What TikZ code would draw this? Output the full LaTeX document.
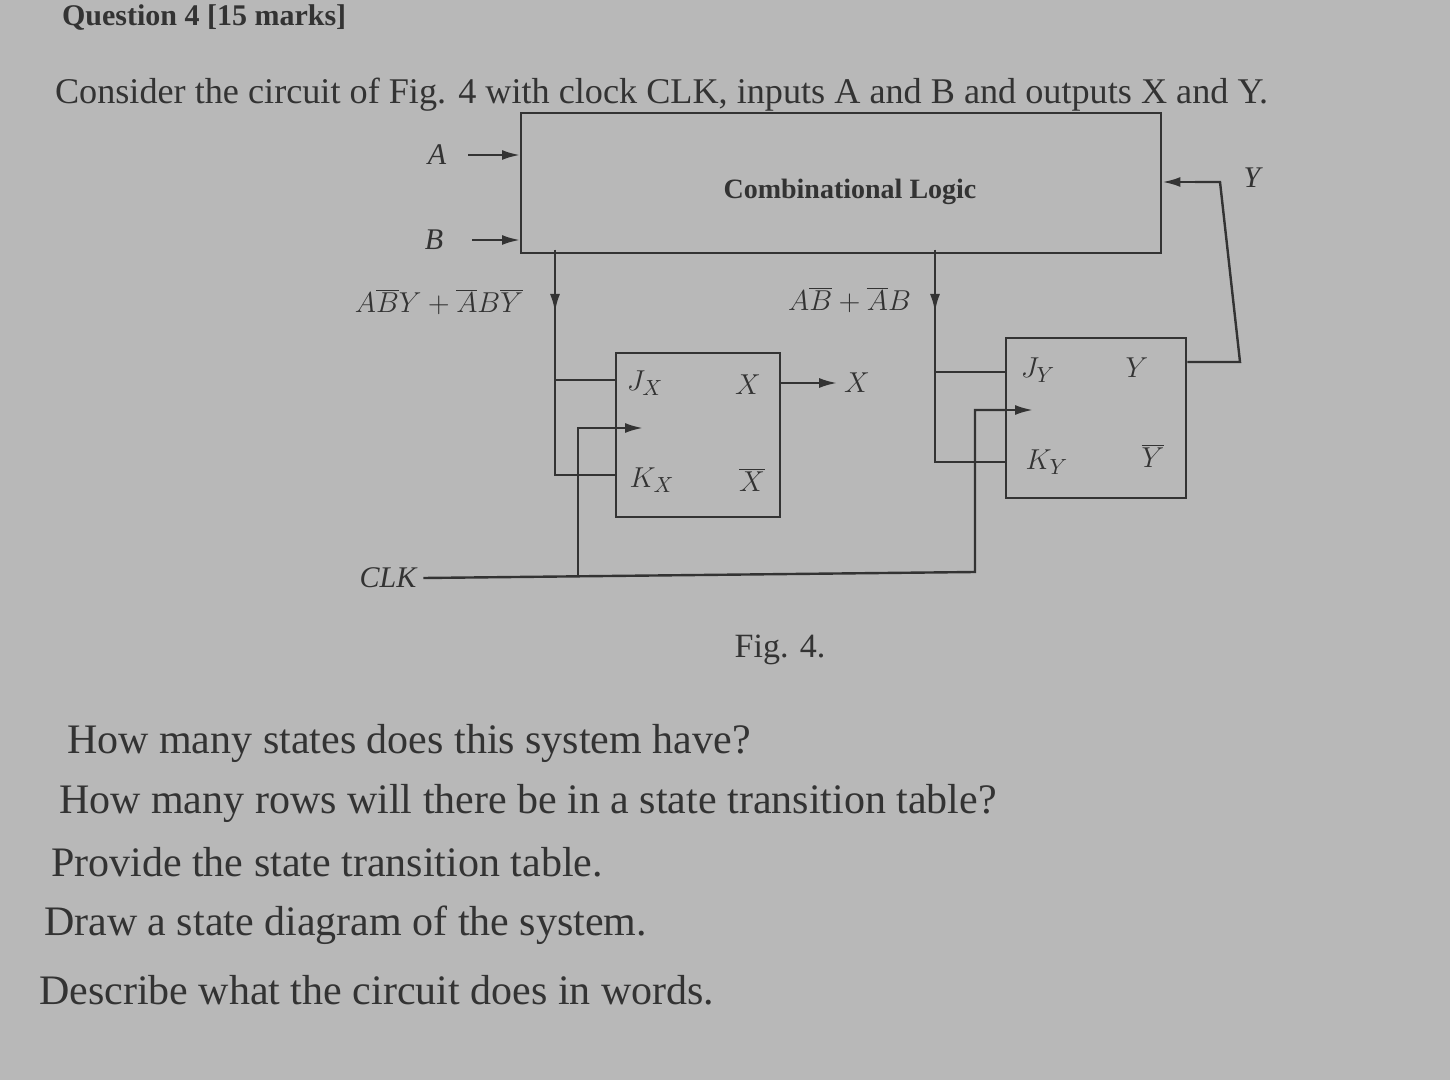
\documentclass[tikz,border=0pt]{standalone}
\usepackage{fontspec}
\setmainfont{Liberation Serif}
\usetikzlibrary{arrows.meta}
\begin{document}
\begin{tikzpicture}[x=0.5pt,y=-0.5pt,
  wire/.style={line width=1.2pt,draw=black!80},
  arr/.style={wire,-{Latex[length=9pt,width=5pt]}},
  lbl/.style={font=\fontsize{15}{18}\selectfont\itshape,text=black!80},
  txt/.style={font=\fontsize{21}{25}\selectfont,text=black!80,anchor=west}]
\fill[black!28] (0,0) rectangle (1450,1080);
\useasboundingbox (0,0) rectangle (1450,1080);
\node[txt,font=\fontsize{15}{18}\selectfont\bfseries] (q) at (55,18) {Question 4 [15 marks]};
\node[txt,font=\fontsize{18.1}{22}\selectfont] (c) at (48,95) {Consider the circuit of Fig. 4 with clock CLK, inputs A and B and outputs X and Y.};
% combinational logic
\node[wire,draw,minimum width=320pt,minimum height=70pt,anchor=north west,inner sep=0] (cl) at (520,112) {};
\node[font=\fontsize{14}{16}\selectfont\bfseries,text=black!80] (clt) at (850,192) {Combinational Logic};
\node[lbl] (A) at (437,155) {A};
\node[lbl] (B) at (434,240) {B};
\coordinate (Ae) at (468,155); \coordinate (Be) at (472,240);
\draw[arr] (Ae) -- (Ae -| cl.west);
\draw[arr] (Be) -- (Be -| cl.west);
% flip-flops
\node[wire,draw,minimum width=82pt,minimum height=82pt,anchor=north west,inner sep=0] (fx) at (615,352) {};
\node[wire,draw,minimum width=90pt,minimum height=80pt,anchor=north west,inner sep=0] (fy) at (1005,337) {};
\node[lbl] (jx) at (645,383) {$J_X$};
\node[lbl] (qx) at (748,385) {$X$};
\node[lbl] (kx) at (652,480) {$K_X$};
\node[lbl] (nx) at (752,480) {$\overline{X}$};
\node[lbl] (jy) at (1038,370) {$J_Y$};
\node[lbl] (qy) at (1137,368) {$Y$};
\node[lbl] (ky) at (1047,462) {$K_Y$};
\node[lbl] (ny) at (1153,456) {$\overline{Y}$};
% clock triangles
\draw[arr] (615,428) -- (643,428);
\draw[arr] (1005,410) -- (1033,410);
% left comb output
\coordinate (lo) at (555,250);
\draw[wire] (lo) -- (555,475) -- (fx.west |- 0,475);
\draw[arr] (lo) -- (555,312);
\draw[wire] (555,380) -- (fx.west |- 0,380);
\node[lbl,anchor=east] (lx) at (530,302) {$A\overline{B}Y+\overline{A}B\overline{Y}$};
% right comb output
\coordinate (ro) at (935,250);
\draw[wire] (ro) -- (935,462) -- (fy.west |- 0,462);
\draw[arr] (ro) -- (935,312);
\draw[wire] (935,372) -- (fy.west |- 0,372);
\node[lbl,anchor=east] (ly) at (918,300) {$A\overline{B}+\overline{A}B$};
% X output
\node[lbl] (xo) at (857,383) {$X$};
\draw[arr] (fx.east |- 0,383) -- (xo.west);
% Y feedback
\node[lbl] (yl) at (1252,178) {Y};
\draw[wire] (fy.east |- 0,362) -- (1240,362) -- (1220,182) -- (1195,182);
\draw[arr] (1195,182) -- (cl.east |- 0,182);
% clock
\node[lbl] (clk) at (388,578) {CLK};
\draw[wire] (clk.east) -- (975,572) -- (975,410) -- (1005,410);
\draw[wire] (578,575) -- (578,428) -- (615,428);
\node[font=\fontsize{17}{20}\selectfont,text=black!80] (fig) at (780,650) {Fig. 4.};
\node[txt] (t1) at (60,743) {How many states does this system have?};
\node[txt] (t2) at (52,803) {How many rows will there be in a state transition table?};
\node[txt] (t3) at (44,862) {Provide the state transition table.};
\node[txt] (t4) at (37,925) {Draw a state diagram of the system.};
\node[txt] (t5) at (32,990) {Describe what the circuit does in words.};
\end{tikzpicture}
\end{document}
